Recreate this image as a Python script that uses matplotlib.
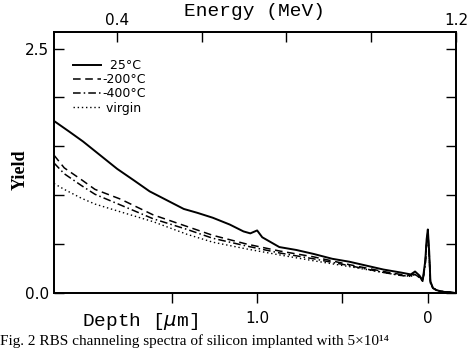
import matplotlib
matplotlib.use("Agg")
import matplotlib.pyplot as plt
from matplotlib.ticker import FixedLocator, FixedFormatter

# depth (um) and yield
d_25 = [2.19, 2.10, 2.02, 1.92, 1.82, 1.72, 1.63, 1.53, 1.43, 1.35, 1.26, 1.16,
        1.08, 1.04, 1.00, 0.97, 0.87, 0.77, 0.67, 0.56, 0.46, 0.36, 0.26, 0.16,
        0.10, 0.075, 0.05, 0.03, 0.015, 0.007, 0.0, -0.008, -0.015, -0.03,
        -0.05, -0.07, -0.10, -0.13, -0.16]
y_25 = [1.76, 1.65, 1.55, 1.41, 1.27, 1.15, 1.04, 0.95, 0.86, 0.82, 0.77, 0.70,
        0.63, 0.61, 0.64, 0.57, 0.47, 0.44, 0.40, 0.35, 0.32, 0.28, 0.24, 0.21,
        0.19, 0.22, 0.18, 0.13, 0.33, 0.55, 0.65, 0.42, 0.12, 0.05,
        0.03, 0.02, 0.01, 0.01, 0.0]

d_other = [2.19, 2.13, 2.03, 1.95, 1.80, 1.61, 1.41, 1.26, 1.06, 0.87, 0.67,
           0.46, 0.26, 0.16, 0.10, 0.075, 0.05, 0.03, 0.015, 0.007, 0.0,
           -0.008, -0.015, -0.03, -0.05, -0.07, -0.10, -0.16]
y_200 = [1.41, 1.28, 1.16, 1.06, 0.96, 0.80, 0.68, 0.59, 0.50, 0.43, 0.37,
         0.29, 0.22, 0.19, 0.18, 0.20, 0.17, 0.12, 0.31, 0.52, 0.62, 0.40,
         0.11, 0.05, 0.03, 0.02, 0.01, 0.0]
y_400 = [1.33, 1.22, 1.10, 1.01, 0.90, 0.76, 0.65, 0.56, 0.48, 0.41, 0.35,
         0.28, 0.21, 0.18, 0.17, 0.19, 0.16, 0.12, 0.30, 0.51, 0.61, 0.39,
         0.11, 0.05, 0.03, 0.02, 0.01, 0.0]
y_virgin = [1.12, 1.06, 0.97, 0.91, 0.83, 0.73, 0.60, 0.52, 0.45, 0.39, 0.33,
            0.27, 0.21, 0.18, 0.17, 0.19, 0.16, 0.12, 0.29, 0.50, 0.59, 0.38,
            0.10, 0.05, 0.03, 0.02, 0.01, 0.0]

depth_ticks = [1.5, 1.0, 0.5, 0.0]
depth_labels = ["", "1.0", "", "0"]
energy_ticks = [0.4, 0.6, 0.8, 1.0, 1.2]
energy_labels = ["0.4", "", "", "", "1.2"]
yield_ticks = [0.0, 0.5, 1.0, 1.5, 2.0, 2.5]
yield_labels = ["0.0", "", "", "", "", "2.5"]

mono = "Liberation Mono"
serif = "Liberation Serif"

fig = plt.figure(figsize=(4.74, 3.49), dpi=100)
ax = fig.add_axes([54 / 474, 56 / 349, 402 / 474, 261 / 349])

ax.plot(d_25, y_25, color="black", lw=1.4, ls="-", label="  25°C")
ax.plot(d_other, y_200, color="black", lw=1.1, ls=(0, (5, 3)), label="-200°C")
ax.plot(d_other, y_400, color="black", lw=1.1, ls=(0, (5, 2, 1, 2)), label="-400°C")
ax.plot(d_other, y_virgin, color="black", lw=1.0, ls=(0, (1, 2)), label=" virgin")

ax.set_xlim(2.19, -0.165)
ax.set_ylim(0, 2.67)

ax.xaxis.set_major_locator(FixedLocator(depth_ticks))
ax.xaxis.set_major_formatter(FixedFormatter(depth_labels))
ax.yaxis.set_major_locator(FixedLocator(yield_ticks))
ax.yaxis.set_major_formatter(FixedFormatter(yield_labels))
ax.tick_params(axis="x", direction="out", length=7, width=1, labelsize=11, pad=6)
ax.tick_params(axis="y", direction="in", length=7, width=1, labelsize=11,
               right=True)
for lab in ax.get_xticklabels() + ax.get_yticklabels():
    lab.set_fontfamily("DejaVu Sans")

top = ax.twiny()
top.set_xlim(0.252, 1.2)
top.xaxis.set_major_locator(FixedLocator(energy_ticks))
top.xaxis.set_major_formatter(FixedFormatter(energy_labels))
top.tick_params(axis="x", direction="in", length=7, width=1, labelsize=11, pad=3)
for lab in top.get_xticklabels():
    lab.set_fontfamily("DejaVu Sans")

for a in (ax, top):
    for s in a.spines.values():
        s.set_linewidth(1.3)

leg = ax.legend(loc="upper left", bbox_to_anchor=(0.02, 0.94), frameon=False,
                handlelength=2.2, handletextpad=0.1, labelspacing=0.1,
                prop={"family": "DejaVu Sans", "size": 9})

fig.text(255 / 474, 1 - 12 / 349, "Energy (MeV)", fontsize=14,
         family=mono, ha="center", va="center")
fig.text(140 / 474, 1 - 322 / 349, "Depth [$\\mu$m]", fontsize=14,
         family=mono, ha="center", va="center")
fig.text(20 / 474, 1 - 170 / 349, "Yield", fontsize=13, family=serif,
         weight="bold", rotation=90, ha="center", va="center")
fig.text(0.0, 0.003,
         "Fig. 2 RBS channeling spectra of silicon implanted with 5\u00d710\u00b9\u2074",
         fontsize=11, family=serif, ha="left", va="bottom")

fig.savefig("out.png", dpi=100)
